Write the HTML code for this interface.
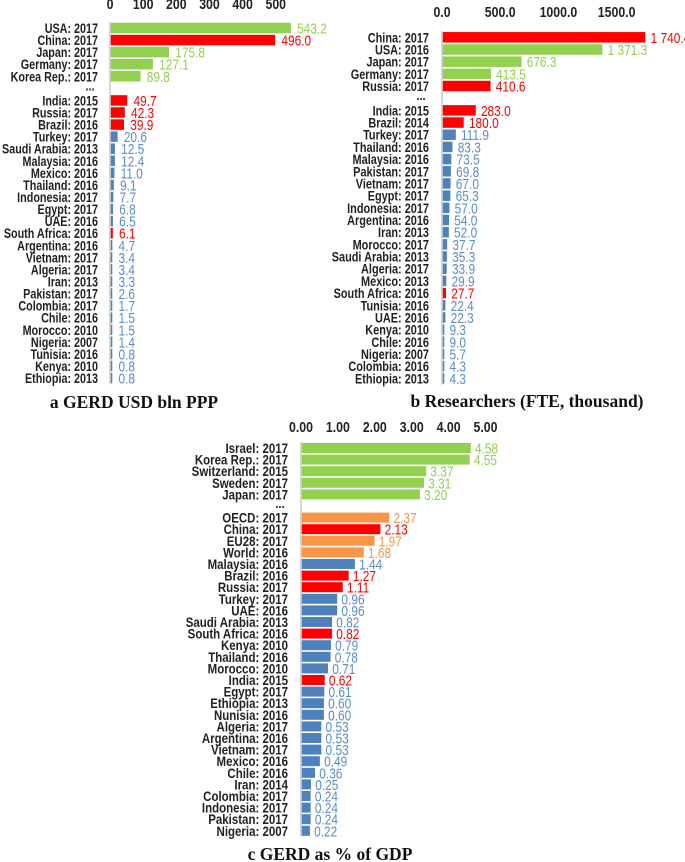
<!DOCTYPE html>
<html><head><meta charset="utf-8"><style>
html,body{margin:0;padding:0;background:#fff;}
svg{display:block;}
text{font-family:"Liberation Sans",Arial,sans-serif;}
.lab{font-weight:bold;font-size:14px;fill:#222;}
.val{font-size:14.5px;}
.tick{font-weight:bold;font-size:14.5px;fill:#222;}
.ttl{font-family:"Liberation Serif",serif;font-weight:bold;font-size:17.5px;fill:#111;}
</style></head><body>
<svg id="chart" width="685" height="862" viewBox="0 0 685 862" xmlns="http://www.w3.org/2000/svg">
<text class="ttl" x="134" y="408" text-anchor="middle">a  GERD USD bln PPP</text>
<text class="ttl" x="527" y="407" text-anchor="middle">b  Researchers (FTE, thousand)</text>
<text class="ttl" x="330" y="860" text-anchor="middle">c  GERD as % of GDP</text>
</svg>
<script>
// Panel a: GERD USD bln PPP (null = "..." gap row)
const aLabels=["USA: 2017","China: 2017","Japan: 2017","Germany: 2017","Korea Rep.: 2017",null,"India: 2015","Russia: 2017","Brazil: 2016","Turkey: 2017","Saudi Arabia: 2013","Malaysia: 2016","Mexico: 2016","Thailand: 2016","Indonesia: 2017","Egypt: 2017","UAE: 2016","South Africa: 2016","Argentina: 2016","Vietnam: 2017","Algeria: 2017","Iran: 2013","Pakistan: 2017","Colombia: 2017","Chile: 2016","Morocco: 2010","Nigeria: 2007","Tunisia: 2016","Kenya: 2010","Ethiopia: 2013"];
const aValues=[543.2,496.0,175.8,127.1,89.8,null,49.7,42.3,39.9,20.6,12.5,12.4,11.0,9.1,7.7,6.8,6.5,6.1,4.7,3.4,3.4,3.3,2.6,1.7,1.5,1.5,1.4,0.8,0.8,0.8];
const aGroups=["g","r","g","g","g",null,"r","r","r","b","b","b","b","b","b","b","b","r","b","b","b","b","b","b","b","b","b","b","b","b"];
const aTicks=[0,100,200,300,400,500];
const aTickText=["0","100","200","300","400","500"];

// Panel b: Researchers (FTE, thousand)
const bLabels=["China: 2017","USA: 2016","Japan: 2017","Germany: 2017","Russia: 2017",null,"India: 2015","Brazil: 2014","Turkey: 2017","Thailand: 2016","Malaysia: 2016","Pakistan: 2017","Vietnam: 2017","Egypt: 2017","Indonesia: 2017","Argentina: 2016","Iran: 2013","Morocco: 2017","Saudi Arabia: 2013","Algeria: 2017","Mexico: 2013","South Africa: 2016","Tunisia: 2016","UAE: 2016","Kenya: 2010","Chile: 2016","Nigeria: 2007","Colombia: 2016","Ethiopia: 2013"];
const bValues=[1740.4,1371.3,676.3,413.5,410.6,null,283.0,180.0,111.9,83.3,73.5,69.8,67.0,65.3,57.0,54.0,52.0,37.7,35.3,33.9,29.9,27.7,22.4,22.3,9.3,9.0,5.7,4.3,4.3];
const bValueText=["1 740.4","1 371.3","676.3","413.5","410.6",null,"283.0","180.0","111.9","83.3","73.5","69.8","67.0","65.3","57.0","54.0","52.0","37.7","35.3","33.9","29.9","27.7","22.4","22.3","9.3","9.0","5.7","4.3","4.3"];
const bGroups=["r","g","g","g","r",null,"r","r","b","b","b","b","b","b","b","b","b","b","b","b","b","r","b","b","b","b","b","b","b"];
const bTicks=[0,500,1000,1500];
const bTickText=["0.0","500.0","1000.0","1500.0"];

// Panel c: GERD as % of GDP
const cLabels=["Israel: 2017","Korea Rep.: 2017","Switzerland: 2015","Sweden: 2017","Japan: 2017",null,"OECD: 2017","China: 2017","EU28: 2017","World: 2016","Malaysia: 2016","Brazil: 2016","Russia: 2017","Turkey: 2017","UAE: 2016","Saudi Arabia: 2013","South Africa: 2016","Kenya: 2010","Thailand: 2016","Morocco: 2010","India: 2015","Egypt: 2017","Ethiopia: 2013","Nunisia: 2016","Algeria: 2017","Argentina: 2016","Vietnam: 2017","Mexico: 2016","Chile: 2016","Iran: 2014","Colombia: 2017","Indonesia: 2017","Pakistan: 2017","Nigeria: 2007"];
const cValues=[4.58,4.55,3.37,3.31,3.20,null,2.37,2.13,1.97,1.68,1.44,1.27,1.11,0.96,0.96,0.82,0.82,0.79,0.78,0.71,0.62,0.61,0.60,0.60,0.53,0.53,0.53,0.49,0.36,0.25,0.24,0.24,0.24,0.22];
const cGroups=["g","g","g","g","g",null,"o","r","o","o","b","r","r","b","b","b","r","b","b","b","r","b","b","b","b","b","b","b","b","b","b","b","b","b"];
const cTicks=[0,1,2,3,4,5];
const cTickText=["0.00","1.00","2.00","3.00","4.00","5.00"];

const FILL={g:"#92d050",r:"#ff0000",b:"#4f81bd",o:"#f79646"};
const TXT={g:"#92d050",r:"#ff0000",b:"#5b8ccc",o:"#f79646"};
const NS="http://www.w3.org/2000/svg";
const svg=document.getElementById("chart");

function mk(tag,attrs,parent){const e=document.createElementNS(NS,tag);for(const k in attrs)e.setAttribute(k,attrs[k]);(parent||svg).appendChild(e);return e;}

function drawPanel(p,labels,values,groups,ticks,tickText,valueText,cfg){
  const g=mk("g",{});
  
  
  const xs=v=>cfg.x0+v*cfg.scale;
  const ys=i=>cfg.y0+i*cfg.pitch;
  const n=labels.length;
  const ax=mk("line",{x1:cfg.x0,x2:cfg.x0,y1:ys(0)-cfg.bh/2-1,y2:ys(n-1)+cfg.bh/2+1,stroke:"#c8c8c8","stroke-width":1.5},g);
  
  
  ticks.forEach((t,i)=>{
    const tx=mk("text",{class:"tick","text-anchor":"middle",transform:`translate(${xs(t)},${cfg.tickY}) scale(0.85,1)`},g);
    tx.textContent=tickText[i];
    
    
  });
  labels.forEach((lab,i)=>{
    const y=ys(i);
    if(lab===null){
      const d=mk("text",{class:"lab","text-anchor":"middle",transform:`translate(${cfg.labX-8},${y+2}) scale(${cfg.sx},1)`},g);
      d.textContent="...";
      
      
      return;
    }
    const l=mk("text",{class:"lab","text-anchor":"end",transform:`translate(${cfg.labX},${y+5}) scale(${cfg.sx},1)`},g);
    l.textContent=lab;
    
    
    const w=Math.max(values[i]*cfg.scale,1.5);
    const r=mk("rect",{x:cfg.x0+0.8,y:y-cfg.bh/2,width:w,height:cfg.bh,fill:FILL[groups[i]]},g);
    
    
    const v=mk("text",{class:"val",fill:TXT[groups[i]],transform:`translate(${cfg.x0+w+cfg.vgap},${y+5.5}) scale(0.82,1)`},g);
    v.textContent=valueText?valueText[i]:values[i].toFixed(cfg.dec);
    
    
  });
}
drawPanel("a",aLabels,aValues,aGroups,aTicks,aTickText,null,{x0:110,scale:0.3315,y0:28,pitch:12.07,bh:10.5,labX:98,tickY:9,sx:0.77,vgap:7,dec:1});
drawPanel("b",bLabels,bValues,bGroups,bTicks,bTickText,bValueText,{x0:442,scale:0.1164,y0:37.3,pitch:12.18,bh:10.5,labX:429,tickY:17,sx:0.78,vgap:6,dec:1});
drawPanel("c",cLabels,cValues,cGroups,cTicks,cTickText,null,{x0:301,scale:36.9,y0:448,pitch:11.6,bh:10,labX:288,tickY:432,sx:0.82,vgap:5,dec:2});
</script>
</body></html>
